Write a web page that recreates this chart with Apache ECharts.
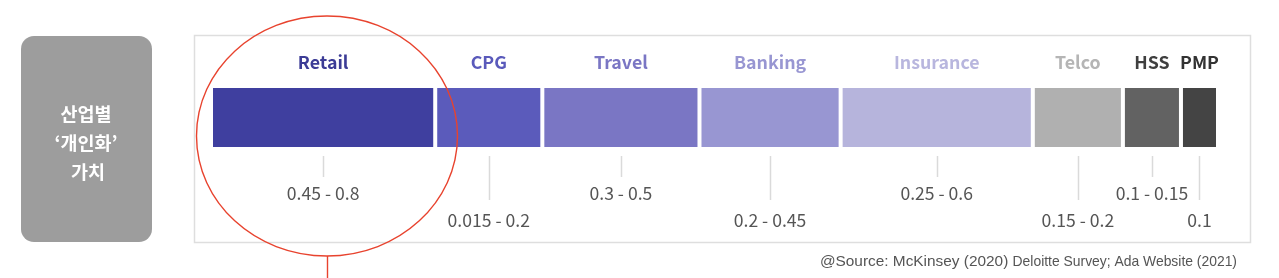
<!DOCTYPE html>
<html>
<head>
<meta charset="utf-8">
<script src="https://cdn.jsdelivr.net/npm/echarts@6/dist/echarts.min.js"></script>
<style>
html,body{margin:0;padding:0;background:#fff;}
#chart{width:1279px;height:278px;}
</style>
</head>
<body>
<div id="chart"></div>
<script>
// ---- data ----
const categories = ['Retail', 'CPG', 'Travel', 'Banking', 'Insurance', 'Telco', 'HSS', 'PMP'];
const segmentWidths = [224, 107, 157, 141, 192, 90, 58, 37];
const valueRanges = ['0.45 - 0.8', '0.015 - 0.2', '0.3 - 0.5', '0.2 - 0.45', '0.25 - 0.6', '0.15 - 0.2', '0.1 - 0.15', '0.1'];
const labelRows = [0, 1, 0, 1, 0, 1, 0, 1];
const sideTitle = '산업별\n‘개인화’\n 가치';
const sourceMain = '@Source: McKinsey (2020) ';
const sourceSub = 'Deloitte Survey; Ada Website (2021)';

// ---- styles ----
const barColors = ['#3f3f9f', '#5b5bbb', '#7a76c4', '#9896d2', '#b6b4dc', '#b0b0b0', '#626262', '#444444'];
const nameColors = ['#3c3c96', '#5a5abb', '#7a76c4', '#9896d2', '#b8b6de', '#b5b5b5', '#3f3f3f', '#333333'];
const FONT = '"Noto Sans CJK KR", "Noto Sans", sans-serif';

const total = segmentWidths.reduce((a, b) => a + b, 0);
const starts = [];
segmentWidths.reduce((acc, w) => { starts.push(acc); return acc + w; }, 0);

const barSeries = categories.map((name, i) => ({
  type: 'bar',
  name: name,
  stack: 'all',
  barWidth: 63,
  data: [segmentWidths[i]],
  itemStyle: { color: barColors[i], borderColor: '#ffffff', borderWidth: 2 },
  label: {
    show: true,
    position: 'top',
    distance: 15,
    formatter: name,
    color: nameColors[i],
    fontFamily: FONT,
    fontWeight: 'bold',
    fontSize: 17.8
  },
  emphasis: { disabled: true },
  silent: true,
  z: 2
}));

const rangeData = categories.map((c, i) => [starts[i], starts[i] + segmentWidths[i], labelRows[i], i]);

const rangeSeries = {
  type: 'custom',
  clip: false,
  silent: true,
  data: rangeData,
  renderItem: function (params, api) {
    const s = api.value(0), e = api.value(1), row = api.value(2), idx = api.value(3);
    const pt = api.coord([(s + e) / 2, 0]);
    const band = api.size([0, 1])[1];
    const x = Math.round(pt[0]) + 0.5;
    const bottom = pt[1] + band / 2;
    const tickTop = bottom + 7;
    const tickEnd = row === 0 ? bottom + 28 : bottom + 51;
    const textY = row === 0 ? bottom + 44 : bottom + 71;
    return {
      type: 'group',
      children: [
        { type: 'line', shape: { x1: x, y1: tickTop, x2: x, y2: tickEnd }, style: { stroke: '#dadada', lineWidth: 1.5 } },
        { type: 'text', style: { text: valueRanges[idx], x: pt[0], y: textY, align: 'center', verticalAlign: 'middle', fill: '#555555', fontSize: 17.6, fontFamily: FONT } }
      ]
    };
  }
};

const chart = echarts.init(document.getElementById('chart'), null, { renderer: 'canvas' });
chart.setOption({
  animation: false,
  backgroundColor: '#ffffff',
  grid: { left: 211, right: 61, top: 86, height: 63 },
  xAxis: { type: 'value', min: 0, max: total, show: false },
  yAxis: { type: 'category', data: ['x'], show: false },
  graphic: [
    { type: 'rect', shape: { x: 194.5, y: 35.5, width: 1056, height: 207 }, style: { fill: 'none', stroke: '#dedede', lineWidth: 1.5 }, z: 0 },
    { type: 'rect', shape: { x: 21, y: 36, width: 131, height: 206, r: 13 }, style: { fill: '#9d9d9d' } },
    { type: 'text', x: 86, y: 143, style: { text: sideTitle, align: 'center', verticalAlign: 'middle', fill: '#ffffff', fontSize: 18.5, fontWeight: 'bold', lineHeight: 29, fontFamily: FONT } },
    { type: 'ellipse', shape: { cx: 327, cy: 136, rx: 130.5, ry: 120 }, style: { fill: 'none', stroke: '#e8432e', lineWidth: 1.4 }, z: 100 },
    { type: 'line', shape: { x1: 327.5, y1: 256, x2: 327.5, y2: 278 }, style: { stroke: '#e8432e', lineWidth: 1.4 }, z: 100 },
    { type: 'text', x: 1237, y: 262, style: {
        text: '{a|' + sourceMain + '}{b|' + sourceSub + '}',
        align: 'right', verticalAlign: 'middle',
        rich: {
          a: { fontSize: 15.4, fill: '#555555', fontFamily: '"Liberation Sans", Arial, sans-serif' },
          b: { fontSize: 13.9, fill: '#555555', fontFamily: '"Liberation Sans", Arial, sans-serif' }
        }
      } }
  ],
  series: barSeries.concat([rangeSeries])
});
</script>
</body>
</html>
